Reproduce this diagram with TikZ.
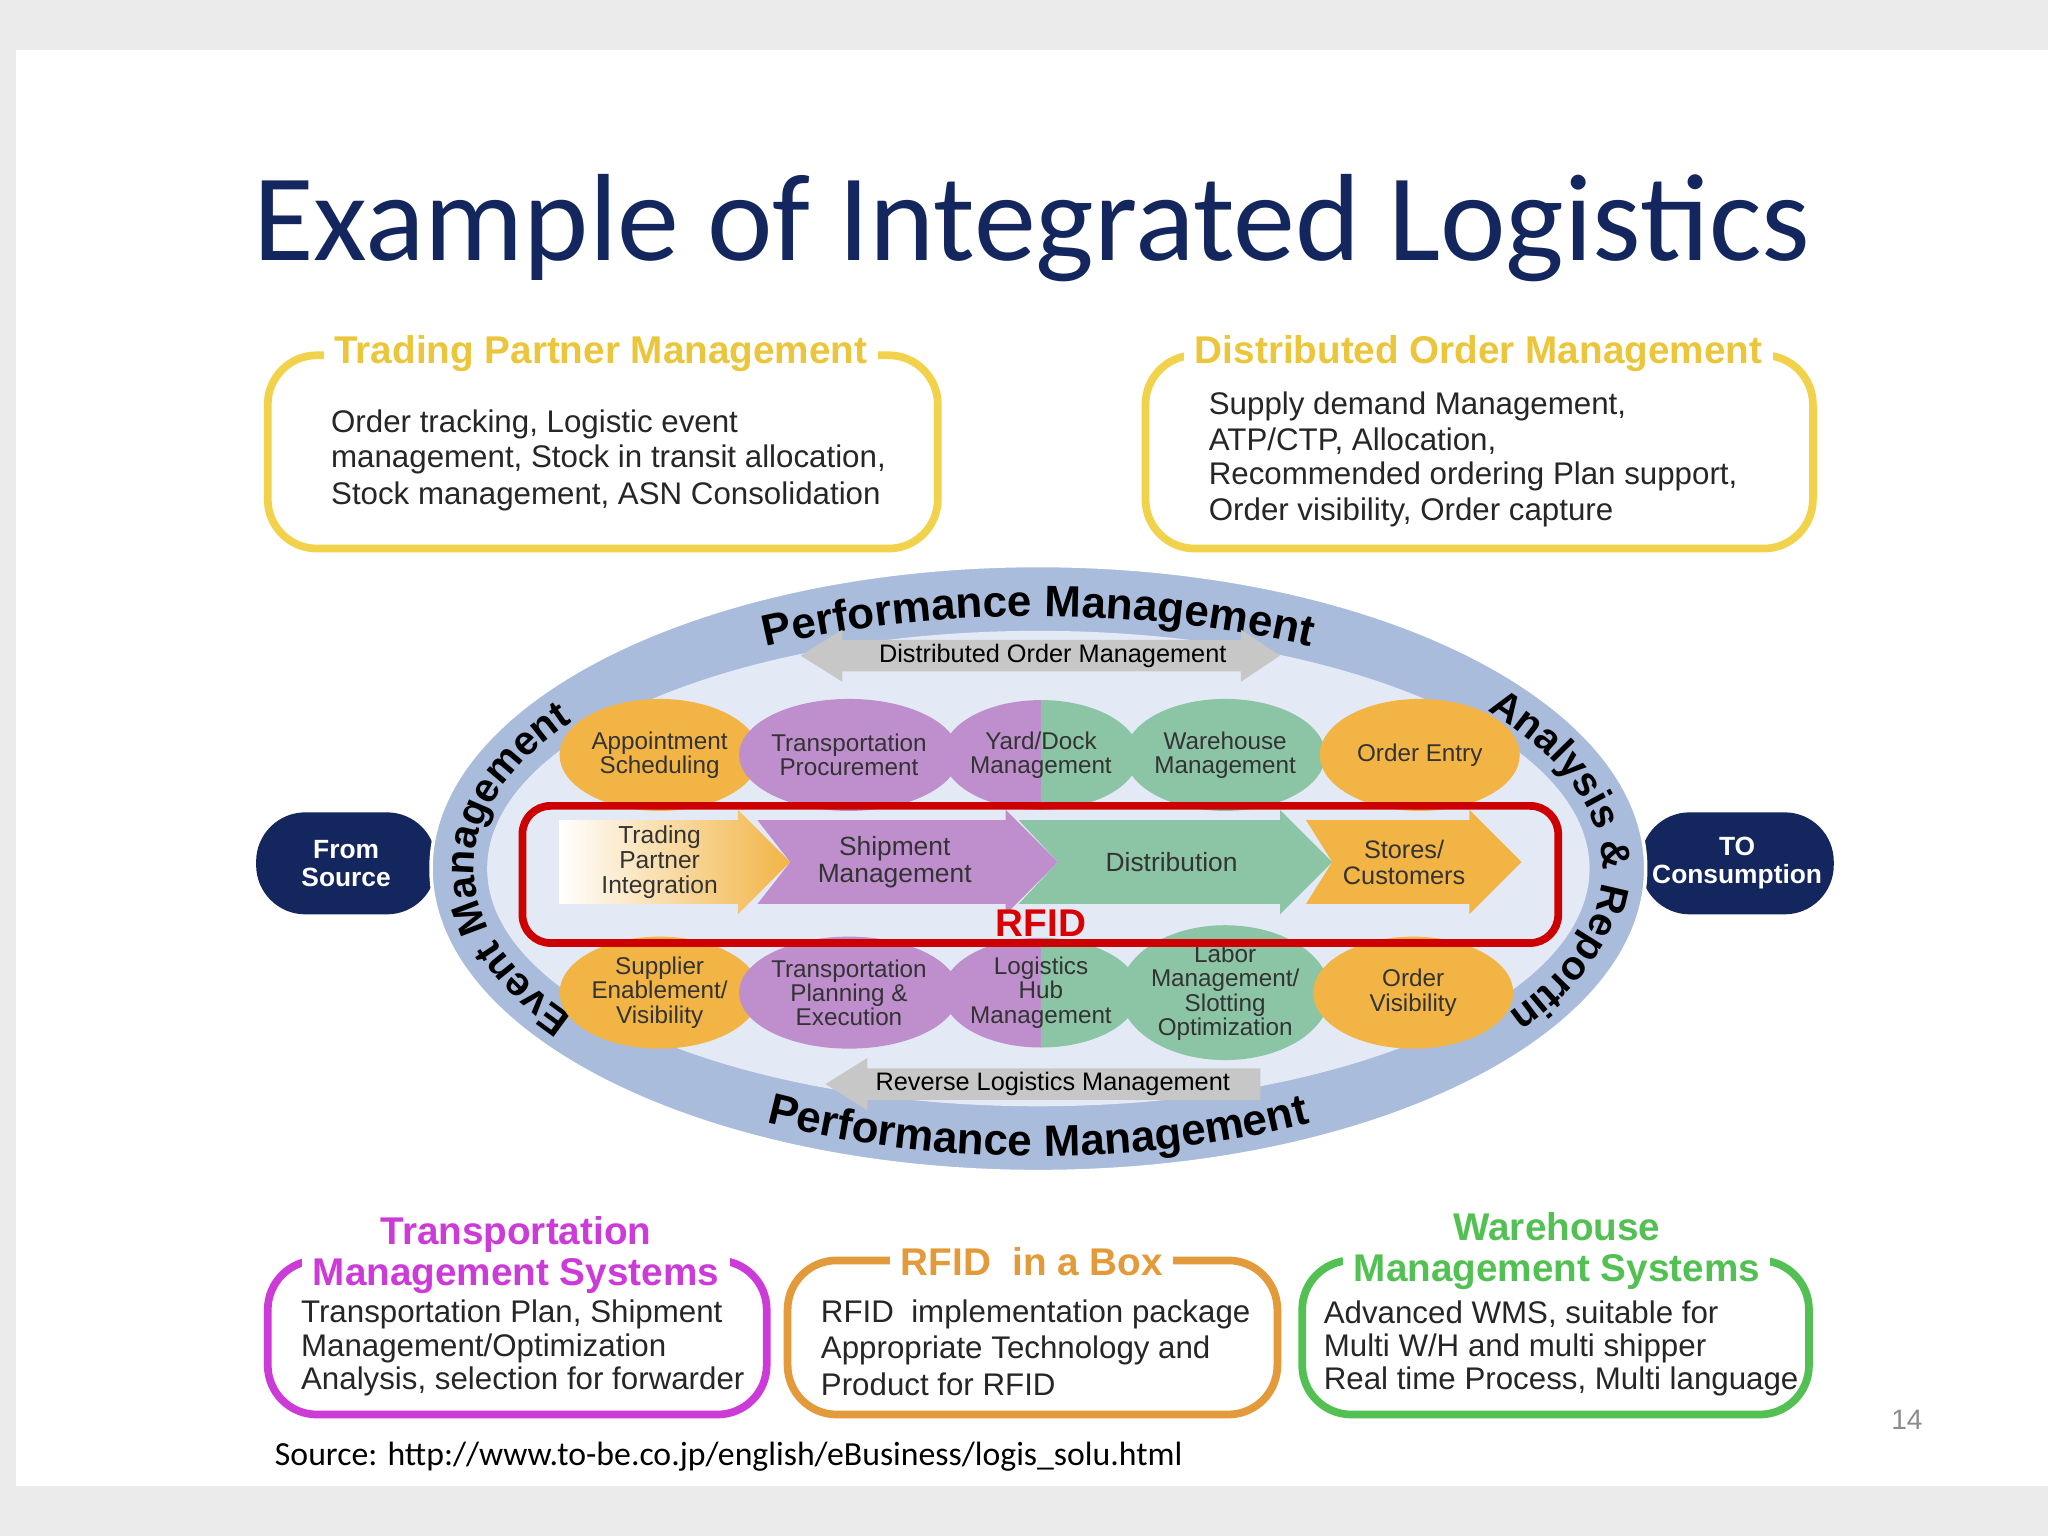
\documentclass[tikz,border=0pt]{standalone}
\usepackage{fontspec}
\setmainfont{Liberation Sans}
\newfontfamily\titlefont{Carlito}
\usetikzlibrary{decorations.text,shapes.geometric}
\definecolor{navy}{HTML}{14265E}
\definecolor{ygold}{HTML}{F2D24A}
\definecolor{ytext}{HTML}{EBC53A}
\definecolor{ring}{HTML}{A9BCDB}
\definecolor{inner}{HTML}{E3EAF5}
\definecolor{orng}{HTML}{F2B445}
\definecolor{purp}{HTML}{BE8ECD}
\definecolor{grn}{HTML}{8CC5A5}
\definecolor{mag}{HTML}{CC3AD8}
\definecolor{org}{HTML}{E39A3A}
\definecolor{wgrn}{HTML}{52C052}
\newcommand\arcfont{\bfseries\fontsize{12.5}{13}\selectfont}
\newcommand\sidefont{\bfseries\fontsize{11.5}{12}\selectfont}
\tikzset{
 box/.style={draw,line width=2.2pt,rounded corners=14pt},
 btitle/.style={fill=white,inner sep=3pt,font=\bfseries\fontsize{11}{12}\selectfont},
 body/.style={anchor=west,inner sep=0pt,font=\fontsize{8.9}{10}\selectfont,text=black!85},
 blob/.style={ellipse,minimum width=2.0cm,minimum height=1.12cm,inner sep=0pt,align=center,font=\fontsize{6.9}{6.9}\selectfont,text=black!80},
 side/.style={fill=navy,rounded corners=14pt,text=white,align=center,font=\bfseries\fontsize{7.5}{8}\selectfont}
}
\begin{document}
\begin{tikzpicture}[x=0.01306cm,y=-0.01306cm]
\useasboundingbox (0,0) rectangle (1568,1176);
\fill[black!8] (0,0) rectangle (1568,1176);
\fill[white] (12,38) rectangle (1568,1138);
\node[text=navy,font=\titlefont\fontsize{35.3}{38}\selectfont] (title) at (790,175) {Example of Integrated Logistics};
% top boxes
\draw[box,ygold] (205,272) rectangle (718,420);
\node[btitle,text=ytext] (t1) at (460,271) {Trading Partner Management};
\node[body] (b1a) at (253,325) {Order tracking, Logistic event};
\node[body] (b1b) at (253,352) {management, Stock in transit allocation,};
\node[body] (b1c) at (253,380) {Stock management, ASN Consolidation};
\draw[box,ygold] (877,272) rectangle (1388,420);
\node[btitle,text=ytext] (t2) at (1132,271) {Distributed Order Management};
\node[body] (b2a) at (925,311) {Supply demand Management,};
\node[body] (b2b) at (925,338) {ATP/CTP, Allocation,};
\node[body] (b2c) at (925,365) {Recommended ordering Plan support,};
\node[body] (b2d) at (925,392) {Order visibility, Order capture};
% side boxes
\node[side,minimum width=1.8cm,minimum height=1.02cm] (src) at (265,661) {From\\Source};
\node[side,minimum width=1.8cm,minimum height=1.02cm] (cons) at (1330,661) {TO\\Consumption};
% ellipse
\fill[ring,draw=white,line width=1pt] (795,665) ellipse [x radius=465,y radius=232];
\fill[inner] (795,665) ellipse [x radius=422,y radius=182];
\begin{scope}[x=0.01306cm,y=0.01306cm]
\path[decorate,decoration={text along path,text align=center,text={|\arcfont|Performance Management}}]
  (795,-665) ++(160:440 and 193) arc [start angle=160,end angle=20,x radius=440,y radius=193];
\path[decorate,decoration={text along path,text align=center,text={|\sidefont|Event Management}}]
  (795,-665) ++(215:432 and 200) arc [start angle=215,end angle=145,x radius=432,y radius=200];
\path[decorate,decoration={text along path,text align=center,text={|\sidefont|Analysis {\&} Reporting}}]
  (795,-665) ++(35:432 and 200) arc [start angle=35,end angle=-35,x radius=432,y radius=200];
\path[decorate,decoration={text along path,text align=center,text={|\arcfont|Performance Management}}]
  (795,-665) ++(200:447 and 220) arc [start angle=200,end angle=340,x radius=447,y radius=220];
\end{scope}
% gray arrows
\fill[black!22] (613,502) -- (645,482) -- (645,490) -- (950,490) -- (950,482) -- (980,502) -- (950,522) -- (950,514) -- (645,514) -- (645,522) -- cycle;
\node[font=\fontsize{7.2}{8}\selectfont] (dom) at (806,502) {Distributed Order Management};
\fill[black!22] (632,830) -- (664,810) -- (664,818) -- (965,818) -- (965,842) -- (664,842) -- (664,850) -- cycle;
\node[font=\fontsize{7.2}{8}\selectfont] (rlm) at (806,830) {Reverse Logistics Management};
% top blobs
\node[blob,fill=orng] (a1) at (505,578) {Appointment\\Scheduling};
\node[blob,fill=purp] (a2) at (650,578) {Transportation\\Procurement};
\begin{scope}
\clip (797,578) ellipse [x radius=75,y radius=42];
\fill[purp] (720,530) rectangle (797,625);
\fill[grn] (797,530) rectangle (875,625);
\end{scope}
\node[blob] (a3) at (797,578) {Yard/Dock\\Management};
\node[blob,fill=grn] (a4) at (938,578) {Warehouse\\Management};
\node[blob,fill=orng] (a5) at (1087,578) {Order Entry};
% bottom blobs
\node[blob,fill=orng] (c1) at (505,760) {Supplier\\Enablement/\\Visibility};
\node[blob,fill=purp] (c2) at (650,760) {Transportation\\Planning \&\\Execution};
\begin{scope}
\clip (797,760) ellipse [x radius=75,y radius=42];
\fill[purp] (720,710) rectangle (797,805);
\fill[grn] (797,710) rectangle (875,805);
\end{scope}
\node[blob] (c3) at (797,760) {Logistics\\Hub\\Management};
\node[blob,fill=grn] (c4) at (938,760) {Labor\\Management/\\Slotting\\Optimization};
\node[blob,fill=orng] (c5) at (1082,760) {Order\\Visibility};
% middle arrows
\shade[left color=white,right color=orng] (428,628) -- (565,628) -- (565,620) -- (605,660) -- (565,700) -- (565,692) -- (428,692) -- cycle;
\fill[purp] (580,628) -- (770,628) -- (770,620) -- (810,660) -- (770,700) -- (770,692) -- (580,692) -- (605,660) -- cycle;
\fill[grn] (780,628) -- (980,628) -- (980,620) -- (1020,660) -- (980,700) -- (980,692) -- (780,692) -- (810,660) -- cycle;
\fill[orng] (1000,628) -- (1125,628) -- (1125,620) -- (1165,660) -- (1125,700) -- (1125,692) -- (1000,692) -- (1020,660) -- cycle;
\node[align=center,font=\fontsize{7}{7}\selectfont,text=black!80] (m1) at (505,660) {Trading\\Partner\\Integration};
\node[align=center,font=\fontsize{7.5}{7.8}\selectfont,text=black!80] (m2) at (685,660) {Shipment\\Management};
\node[font=\fontsize{7.5}{7.8}\selectfont,text=black!80] (m3) at (897,660) {Distribution};
\node[align=center,font=\fontsize{7.2}{7.4}\selectfont,text=black!80] (m4) at (1075,660) {Stores/\\Customers};
\draw[red!80!black,line width=2.2pt,rounded corners=8pt] (400,617) rectangle (1193,722);
\node[text=red!85!black,font=\bfseries\fontsize{11}{11}\selectfont] (rfid) at (797,707) {RFID};
% bottom boxes
\draw[box,mag] (205,965) rectangle (587,1083);
\node[btitle,text=mag,align=center,font=\bfseries\fontsize{11}{11.5}\selectfont] (t3) at (395,961) {Transportation\\Management Systems};
\node[body] (b3a) at (230,1006) {Transportation Plan, Shipment};
\node[body] (b3b) at (230,1032) {Management/Optimization};
\node[body] (b3c) at (230,1058) {Analysis, selection for forwarder};
\draw[box,org] (603,965) rectangle (978,1083);
\node[btitle,text=org,font=\bfseries\fontsize{11}{11.5}\selectfont] (t4) at (790,966) {RFID\ \ in a Box};
\node[body] (b4a) at (628,1006) {RFID\ \ implementation package};
\node[body] (b4b) at (628,1034) {Appropriate Technology and};
\node[body] (b4c) at (628,1060) {Product for RFID};
\draw[box,wgrn] (997,965) rectangle (1385,1083);
\node[btitle,text=wgrn,align=center,font=\bfseries\fontsize{11}{11.5}\selectfont] (t5) at (1192,958) {Warehouse\\Management Systems};
\node[body] (b5a) at (1013,1006) {Advanced WMS, suitable for};
\node[body] (b5b) at (1013,1032) {Multi W/H and multi shipper};
\node[body] (b5c) at (1013,1058) {Real time Process, Multi language};
\node[text=black!45,font=\fontsize{8}{9}\selectfont] (pg) at (1460,1087) {14};
\node[anchor=west,inner sep=0pt,font=\titlefont\fontsize{9.6}{11}\selectfont] (srcl) at (210,1115) {Source: http://www.to-be.co.jp/english/eBusiness/logis\_solu.html};
\end{tikzpicture}
\end{document}
